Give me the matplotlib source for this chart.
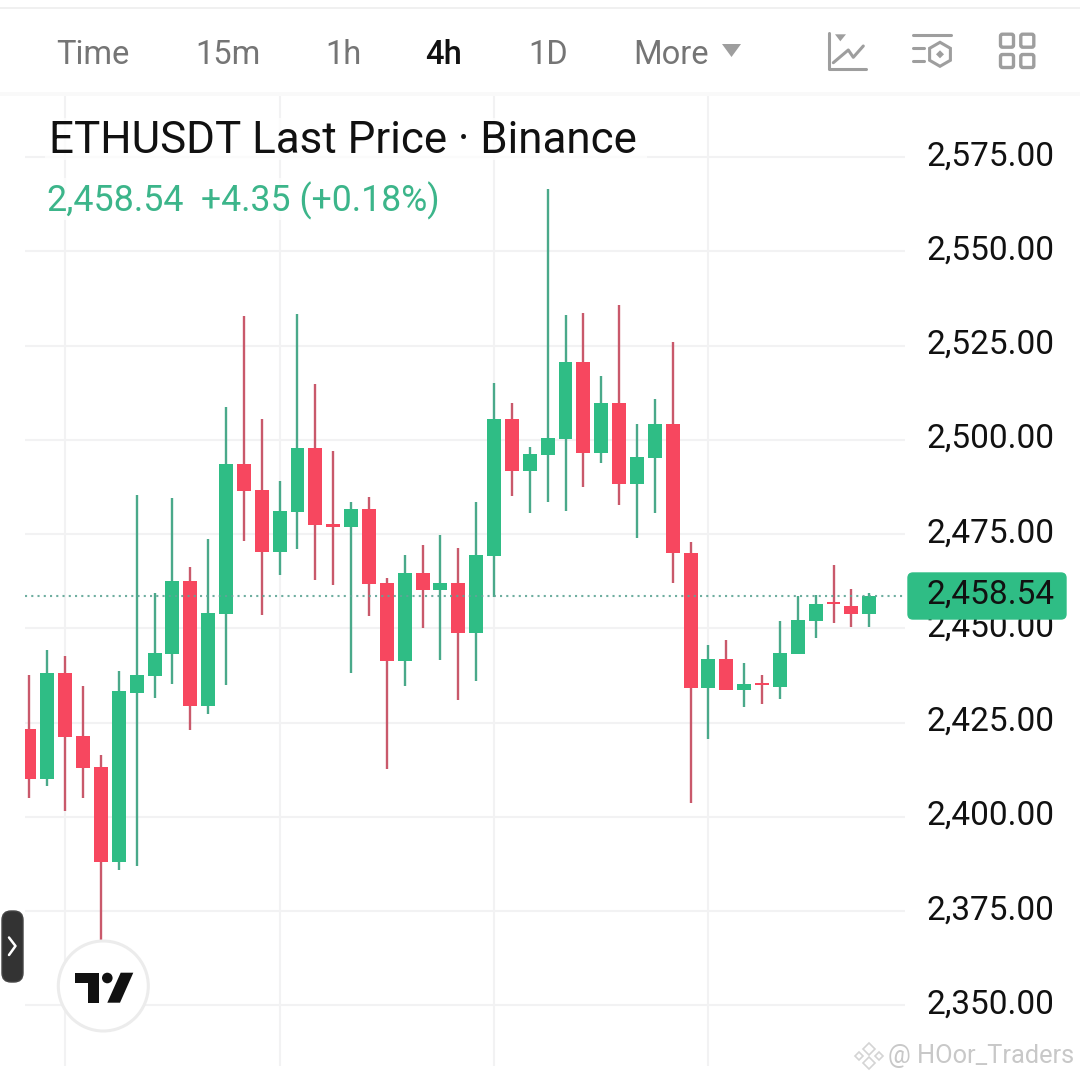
import numpy as np
import matplotlib
matplotlib.use('Agg')
import matplotlib.pyplot as plt
from matplotlib.patches import Circle, FancyBboxPatch, Polygon, Rectangle
from matplotlib.transforms import ScaledTranslation

plt.rcParams['font.family'] = ['Roboto', 'DejaVu Sans']

# candles
opens = [2423.3, 2410.1, 2438.2, 2421.5, 2413.3, 2388.1, 2432.9, 2437.4, 2443.2, 2462.6,
         2429.4, 2453.8, 2493.6, 2486.7, 2470.3, 2480.9, 2497.9, 2477.7, 2476.9, 2481.7,
         2462.1, 2441.4, 2464.7, 2460.2, 2462.1, 2448.8, 2469.2, 2505.6, 2491.8, 2496.0,
         2500.3, 2520.7, 2496.6, 2509.8, 2488.3, 2495.2, 2504.2, 2470.0, 2434.2, 2441.9,
         2433.7, 2435.5, 2434.5, 2443.2, 2452.0, 2456.9, 2456.0, 2453.8]
closes = [2410.1, 2438.2, 2421.2, 2413.0, 2388.1, 2433.4, 2437.7, 2443.5, 2462.6, 2429.4,
          2454.1, 2493.6, 2486.5, 2470.3, 2481.2, 2497.9, 2477.5, 2476.9, 2481.7, 2461.8,
          2441.4, 2464.7, 2460.2, 2462.1, 2448.8, 2469.5, 2505.6, 2491.8, 2496.3, 2500.5,
          2520.7, 2496.6, 2509.8, 2488.3, 2495.5, 2504.2, 2470.0, 2434.2, 2441.9, 2433.7,
          2435.3, 2435.0, 2443.5, 2452.3, 2456.5, 2456.4, 2453.8, 2458.54]
highs = [2437.7, 2444.3, 2442.7, 2434.7, 2416.4, 2438.7, 2485.4, 2459.4, 2484.6, 2466.3,
         2473.7, 2508.8, 2532.9, 2505.6, 2489.1, 2533.4, 2514.9, 2497.1, 2483.6, 2484.9,
         2463.4, 2469.5, 2472.1, 2474.8, 2471.4, 2483.6, 2515.1, 2509.8, 2498.1, 2566.6,
         2533.2, 2533.7, 2517.0, 2535.8, 2504.2, 2510.9, 2526.0, 2472.9, 2445.6, 2446.9,
         2440.8, 2437.7, 2452.0, 2458.6, 2458.9, 2466.8, 2460.5, 2459.4]
lows = [2405.0, 2408.2, 2401.6, 2405.0, 2367.4, 2385.9, 2387.0, 2431.6, 2435.3, 2423.1,
        2427.3, 2435.0, 2473.2, 2453.6, 2464.2, 2471.1, 2462.9, 2461.5, 2438.2, 2453.3,
        2412.7, 2434.7, 2450.1, 2441.6, 2431.0, 2436.1, 2458.4, 2485.1, 2480.6, 2483.6,
        2481.2, 2487.5, 2493.9, 2482.8, 2474.0, 2480.6, 2462.1, 2403.7, 2420.7, 2433.7,
        2429.2, 2430.0, 2431.3, 2443.2, 2447.5, 2451.5, 2450.4, 2450.4]
last_price = 2458.54
price_ticks = [2350, 2375, 2400, 2425, 2450, 2475, 2500, 2525, 2550, 2575]
time_ticks = [2, 14, 26, 38]
menu_items = ['Time', '15m', '1h', '4h', '1D', 'More']

GREEN = '#2fbd85'
RED = '#f7475f'
GREEN_WICK = '#4aa98a'
RED_WICK = '#c9596b'
GRID = '#f2f2f3'
GRAY = '#9e9e9e'
INK = '#111111'

fig = plt.figure(figsize=(10.8, 10.8), dpi=100, facecolor='white')


def px_rect(x0, y0, x1, y1):
    return [x0/1080, 1-y1/1080, (x1-x0)/1080, (y1-y0)/1080]


# price pane
ax = fig.add_axes(px_rect(25, 92, 905, 1066))
x = np.arange(len(opens))
o, c, h, l = [np.array(a) for a in (opens, closes, highs, lows)]
up = c >= o
ax.vlines(x[up], l[up], h[up], color=GREEN_WICK, lw=1.7, zorder=3)
ax.vlines(x[~up], l[~up], h[~up], color=RED_WICK, lw=1.7, zorder=3)
ax.bar(x[up], (c-o)[up], bottom=o[up], width=0.78, color=GREEN, zorder=4)
ax.bar(x[~up], (c-o)[~up], bottom=o[~up], width=0.78, color=RED, zorder=4)
ax.axhline(last_price, color='#5fa596', lw=1.5, ls=(0, (1, 2)), alpha=0.9, zorder=5)

ax.set_xlim(-0.25, 49.0)
ax.set_ylim(2333.95, 2592.3)
ax.set_xticks(time_ticks)
ax.set_yticks(price_ticks)
ax.set_yticklabels(['{:,.2f}'.format(p) for p in price_ticks])
ax.yaxis.tick_right()
ax.tick_params(axis='y', length=0, pad=15.2, labelsize=24, labelcolor=INK)
ax.tick_params(axis='x', length=0, labelbottom=False)
ax.grid(True, color=GRID, lw=1.5, zorder=0)
ax.set_axisbelow(True)
for s in ax.spines.values():
    s.set_visible(False)
up_shift = ScaledTranslation(0, 4.5/100, fig.dpi_scale_trans)
for lab in ax.get_yticklabels():
    lab.set_transform(lab.get_transform()+up_shift)

# everything around the chart, in screen pixels
ui = fig.add_axes([0, 0, 1, 1], zorder=10)
ui.set_xlim(0, 1080)
ui.set_ylim(1080, 0)
ui.axis('off')

ui.plot([0, 1080], [8, 8], color='#eeeeee', lw=1.2)
ui.add_patch(Rectangle((0, 92), 1080, 4, fc='#f9f9f9', ec='none'))

menu_x = [93, 228, 343, 443, 548, 671]
for name, mx in zip(menu_items, menu_x):
    col = INK if name == '4h' else '#757575'
    ui.text(mx, 55, name, ha='center', va='center', fontsize=23.5, color=col,
            fontweight='medium' if name == '4h' else 'normal')
ui.add_patch(Polygon([(722, 44), (741, 44), (731.5, 57)], fc=GRAY, ec='none'))

# toolbar icons
ikw = dict(color=GRAY, lw=2.2, solid_capstyle='round', solid_joinstyle='round')
ui.plot([829, 829, 865.7], [32.7, 69, 69], **ikw)
ui.add_patch(Polygon([(835, 34.3), (846, 34.3), (840.3, 41.3)], fc=GRAY, ec='none'))
ui.plot([833.3, 848.3, 853.3, 863.3], [62.7, 50, 57.3, 46], **ikw)
ui.plot([913.3, 950.7], [35.3, 35.3], **ikw)
ui.plot([913.3, 924], [48, 48], **ikw)
ui.plot([913.3, 924], [60.7, 60.7], **ikw)
ang = np.radians(np.arange(30, 390, 60))
ui.add_patch(Polygon(np.c_[940+12*np.cos(ang), 54.3+12*np.sin(ang)], fc='none', ec=GRAY, lw=2.2))
ui.add_patch(Polygon([(940, 50.3), (944, 54.3), (940, 58.3), (936, 54.3)], fc=GRAY, ec='none'))
for qx, qy in [(999, 32.7), (1019.3, 32.7), (999, 53), (1019.3, 53)]:
    ui.add_patch(FancyBboxPatch((qx+1.5, qy+1.5), 13, 13, boxstyle='round,pad=0,rounding_size=2',
                                fc='none', ec=GRAY, lw=2.4))

# legend on the chart
ui.add_patch(Rectangle((45, 118), 602, 42, fc='white', ec='none', alpha=0.75))
ui.text(49, 141, 'ETHUSDT Last Price · Binance', ha='left', va='center', fontsize=31.6, color=INK)
ui.add_patch(Rectangle((45, 178), 400, 42, fc='white', ec='none', alpha=0.75))
ui.text(46, 201, '2,458.54', ha='left', va='center', fontsize=25.8, color='#3cb58a')
ui.text(201, 201, '+4.35 (+0.18%)', ha='left', va='center', fontsize=25.7, color='#3cb58a')

# last price tag
ui.add_patch(FancyBboxPatch((908, 573), 158, 46, boxstyle='round,pad=0,rounding_size=5',
                            fc=GREEN, ec=GREEN, lw=1))
ui.text(926, 595, '{:,.2f}'.format(last_price), ha='left', va='center', fontsize=24, color=INK)

# side tab and logo
ui.add_patch(FancyBboxPatch((2, 911), 21, 71, boxstyle='round,pad=0,rounding_size=9',
                            fc='#333333', ec='#444444', lw=1))
ui.plot([9, 15.5, 9], [937.5, 946, 955], color='white', lw=1.8, solid_capstyle='round')
ui.add_patch(Circle((103.3, 986), 45, fc='white', ec='#ececec', lw=2.2))
ui.add_patch(Polygon([(74.7, 972.7), (99.3, 972.7), (99.3, 1002.7), (88.3, 1002.7),
                      (88.3, 983.3), (74.7, 983.3)], fc='#111111', ec='none'))
ui.add_patch(Circle((107.3, 978), 5.3, fc='#111111', ec='none'))
ui.add_patch(Polygon([(120.7, 972.7), (133.3, 972.7), (120, 1002.7), (107.3, 1002.7)],
                     fc='#111111', ec='none'))

# watermark
for dx, dy, r in [(869, 1049, 6), (859, 1056, 4), (879, 1056, 4), (869, 1063, 6)]:
    ui.add_patch(Polygon([(dx, dy-r), (dx+r, dy), (dx, dy+r), (dx-r, dy)], fc='white',
                         ec='#d4d4d4', lw=1.2))
ui.text(888, 1056, '@ HOor_Traders', ha='left', va='center', fontsize=18.3, color='#c8c8c8')

fig.savefig('out.png', dpi=100)
